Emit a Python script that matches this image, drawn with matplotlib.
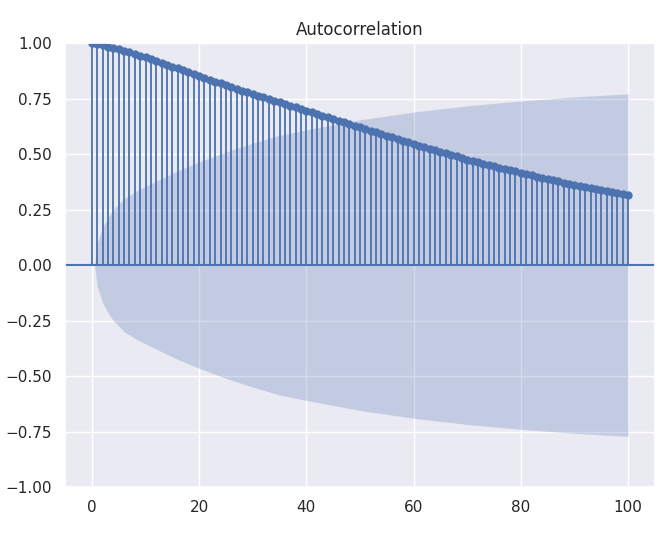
import numpy as np
import matplotlib
matplotlib.use("Agg")
import matplotlib.pyplot as plt
import seaborn as sns

sns.set_theme()

# autocorrelation, lags 0..100
acf_values = [
    1.000,
    0.995, 0.990, 0.985, 0.979, 0.972, 0.966, 0.959, 0.952, 0.944, 0.936,
    0.928, 0.920, 0.912, 0.904, 0.895, 0.887, 0.878, 0.869, 0.860, 0.851,
    0.843, 0.835, 0.827, 0.819, 0.811, 0.803, 0.795, 0.787, 0.779, 0.771,
    0.763, 0.756, 0.748, 0.741, 0.733, 0.726, 0.718, 0.711, 0.703, 0.696,
    0.688, 0.681, 0.673, 0.666, 0.658, 0.651, 0.643, 0.636, 0.628, 0.621,
    0.613, 0.606, 0.598, 0.591, 0.583, 0.576, 0.568, 0.561, 0.553, 0.546,
    0.539, 0.532, 0.525, 0.518, 0.511, 0.504, 0.497, 0.490, 0.483, 0.476,
    0.470, 0.464, 0.458, 0.452, 0.446, 0.440, 0.434, 0.428, 0.422, 0.416,
    0.410, 0.405, 0.399, 0.394, 0.388, 0.383, 0.377, 0.372, 0.366, 0.361,
    0.356, 0.352, 0.347, 0.343, 0.338, 0.334, 0.329, 0.325, 0.320, 0.316,
]
lags = np.arange(len(acf_values))

# half-width of the confidence band at selected lags
band_lags = [0.5, 1, 2, 3, 4, 5, 6, 8, 10, 13, 16, 20, 25, 30, 35, 40, 50, 60, 70, 80, 90, 100]
band_width = [0.0, 0.098, 0.170, 0.215, 0.250, 0.275, 0.300, 0.330, 0.355, 0.390,
              0.425, 0.465, 0.510, 0.550, 0.585, 0.610, 0.655, 0.690, 0.718, 0.740, 0.758, 0.772]

color = "#4c72b0"

fig = plt.figure(figsize=(6.71, 5.34), dpi=100)
ax = fig.add_axes([0.097, 0.088, 0.879, 0.831])

ax.vlines(lags, 0, acf_values, color=color, linewidth=1.3)
ax.plot(lags, acf_values, "o", color=color, markersize=5)
ax.axhline(0, color=color, linewidth=1.5)
bw = np.array(band_width)
ax.fill_between(band_lags, -bw, bw, color=color, alpha=0.25, linewidth=0)

ax.set_xlim(-5, 105)
ax.set_ylim(-1, 1)
ax.set_yticks(np.arange(-1, 1.01, 0.25))
ax.set_title("Autocorrelation")

fig.savefig("out.png", dpi=100)
